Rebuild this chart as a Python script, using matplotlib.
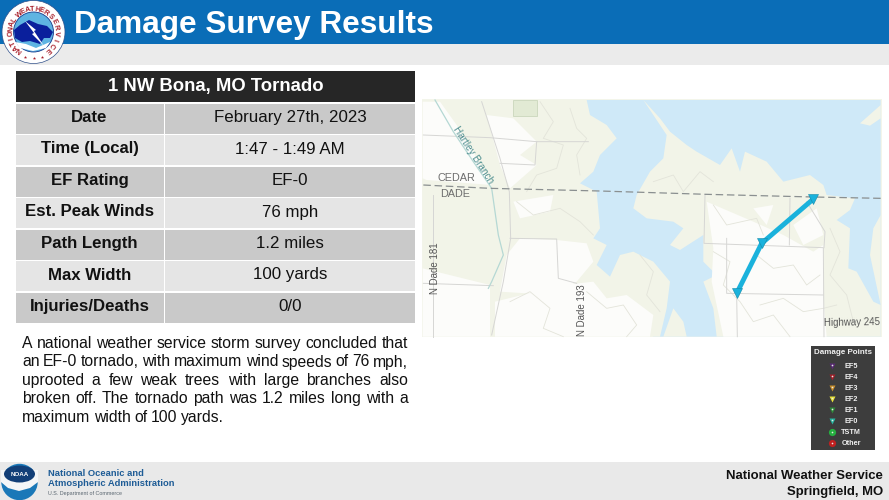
import numpy as np
import matplotlib
matplotlib.use("Agg")
import matplotlib.pyplot as plt
from matplotlib.patches import Rectangle, Polygon, Circle, Ellipse

plt.rcParams['font.family'] = ['Liberation Sans', 'DejaVu Sans']

title = "Damage Survey Results"
table_title = "1 NW Bona, MO Tornado"
row_labels = ["Date", "Time (Local)", "EF Rating", "Est. Peak Winds", "Path Length", "Max Width", "Injuries/Deaths"]
row_values = ["February 27th, 2023", "1:47 - 1:49 AM", "EF-0", "76 mph", "1.2 miles", "100 yards", "0/0"]
paragraph = [
    "A national weather service storm survey concluded that",
    "an EF-0 tornado, with maximum wind speeds of 76 mph,",
    "uprooted a few weak trees with large branches also",
    "broken off.  The tornado path was 1.2 miles long with a",
    "maximum width of 100 yards.",
]
legend_labels = ["EF5", "EF4", "EF3", "EF2", "EF1", "EF0", "TSTM", "Other"]
legend_colors = ["#5a2a76", "#a5202a", "#c98f2a", "#e8e238", "#2e8a3a", "#25b5a0", "#25b040", "#c02020"]
# track points, in map-image units
track_x = [1180, 1025, 950]
track_y = [312, 445, 595]

fig = plt.figure(figsize=(8.89, 5.0), dpi=100, facecolor="white")
ax = fig.add_axes([0, 0, 1, 1])
ax.set_xlim(0, 889); ax.set_ylim(500, 0); ax.axis("off")

def rect(x0, y0, x1, y1, c, z=1):
    ax.add_patch(Rectangle((x0, y0), x1 - x0, y1 - y0, fc=c, ec="none", zorder=z))

# bands
rect(0, 0, 889, 44, "#0a6db7")
rect(0, 44, 889, 65, "#ebebeb")
rect(0, 462, 889, 500, "#e9e9e9")
ax.text(74, 32.5, title, color="white", fontsize=22.7, fontweight="bold", va="baseline", ha="left", zorder=5)

# table
rect(16, 71, 415, 102, "#262626", 2)
ax.text(215.5, 91.5, table_title, color="white", fontsize=13.3, fontweight="bold", ha="center", va="baseline", zorder=5)
row_h = (324 - 103.5) / 7
for i, (a, b) in enumerate(zip(row_labels, row_values)):
    y0 = 103.5 + i * row_h
    c = "#c9c9c9" if i % 2 == 0 else "#e5e5e5"
    rect(16, y0, 163.5, y0 + row_h - 1.2, c, 2)
    rect(165, y0, 415, y0 + row_h - 1.2, c, 2)
    ax.text(89.5, y0 + 18.5, a, fontsize=12.1, fontweight="bold", color="#111111", ha="center", va="baseline", zorder=5)
    ax.text(290, y0 + 18.5, b, fontsize=12.2, color="#111111", ha="center", va="baseline", zorder=5)

# justified paragraph
fig.canvas.draw()
rend = fig.canvas.get_renderer()
line_ys = [348, 366.5, 385, 403.3, 422]
for i, (line, yy) in enumerate(zip(paragraph, line_ys)):
    words = line.replace("  ", " ").split(" ")
    arts = [ax.text(22, yy, w, fontsize=11.3, color="#111111", va="baseline", ha="left", zorder=5) for w in words]
    widths = [t.get_window_extent(rend).width for t in arts]
    if i < len(paragraph) - 1:
        gap = (408 - 22 - sum(widths)) / (len(words) - 1)
    else:
        gap = 3.6
    x = 22
    for t, w in zip(arts, widths):
        t.set_x(x)
        x += w + gap

# map
MX0, MY0, MX1, MY1 = 422, 99, 882, 337
def M(pts):
    return [(420 + x / 3, 95 + y / 3) for x, y in pts]
rect(MX0, MY0, MX1, MY1, "#f3f5ea", 2)
water = M([(480, 15), (1382, 15), (1382, 725), (700, 725), (480, 500)])
ax.add_patch(Polygon(water, fc="#cfe9f8", ec="none", zorder=2.1))
land = [
    [(500, 15), (510, 60), (560, 90), (590, 130), (540, 180), (520, 230), (480, 265), (530, 290), (540, 400),
     (520, 430), (560, 450), (530, 510), (570, 545), (600, 480), (640, 470), (700, 500), (750, 560), (740, 640),
     (720, 725), (8, 725), (8, 15)],
    [(670, 15), (720, 70), (750, 110), (800, 150), (830, 170), (900, 210), (935, 160), (960, 230), (975, 170),
     (1040, 200), (1090, 260), (1170, 240), (1210, 270), (1220, 300), (1305, 310), (1290, 345), (1250, 375),
     (1290, 400), (1285, 520), (1310, 530), (1360, 620), (1382, 630), (1382, 725), (890, 725), (880, 640),
     (850, 560), (890, 540), (850, 500), (850, 420), (780, 465), (750, 450), (790, 400), (760, 380), (680, 370),
     (640, 340), (650, 300), (690, 230), (730, 190), (740, 120), (700, 60)],
    [(1382, 360), (1360, 400), (1350, 480), (1382, 630)],
    [(1320, 85), (1382, 30), (1382, 70), (1350, 92)],
    [(730, 725), (760, 640), (790, 680), (800, 725)],
]
for p in land:
    ax.add_patch(Polygon(M(p), fc="#f2f4e8", ec="none", zorder=2.2))
white_land = [
    [(8, 20), (60, 20), (110, 90), (165, 180), (215, 270), (20, 255), (8, 250)],
    [(200, 60), (280, 70), (350, 140), (300, 180), (350, 210), (270, 280), (240, 210)],
    [(300, 430), (410, 435), (500, 445), (520, 500), (470, 560), (400, 600), (240, 590), (260, 480)],
    [(225, 620), (430, 570), (520, 560), (560, 610), (620, 600), (700, 660), (690, 725), (225, 725)],
    [(8, 520), (210, 570), (210, 725), (8, 725)],
    [(860, 320), (1000, 380), (1090, 420), (1180, 470), (1210, 450), (1210, 610), (1220, 725), (910, 725), (875, 560), (880, 460)],
    [(1000, 340), (1060, 330), (1040, 390)],
    [(1120, 390), (1190, 340), (1210, 420), (1150, 450)],
    [(280, 320), (400, 300), (390, 350), (300, 370)],
]
for p in white_land:
    ax.add_patch(Polygon(M(p), fc="#fcfcfa", ec="none", zorder=2.3))
ax.add_patch(Polygon(M([(278, 15), (352, 15), (352, 62), (278, 62)]), fc="#e2ead4", ec="#c5d2b5", lw=.5, zorder=2.4))
contours = [
    [(360, 20), (400, 80), (370, 130), (430, 150), (410, 220), (350, 240), (320, 290)],
    [(450, 40), (470, 100), (500, 130), (470, 180), (480, 240)],
    [(290, 320), (340, 360), (420, 340), (480, 380), (520, 420)],
    [(270, 620), (330, 590), (390, 640), (370, 700), (430, 725)],
    [(500, 590), (560, 640), (610, 630), (650, 690), (620, 725)],
    [(880, 470), (930, 500), (910, 570), (960, 620), (1000, 680), (1060, 660), (1110, 725)],
    [(1010, 480), (1060, 520), (1120, 510), (1160, 570), (1200, 540)],
    [(1020, 630), (1090, 610), (1150, 650), (1210, 640), (1250, 630)],
    [(880, 330), (920, 390), (1010, 370), (1030, 420)],
    [(700, 260), (760, 240), (790, 290), (840, 230), (880, 260)],
    [(1230, 400), (1260, 470), (1230, 540), (1280, 600), (1300, 680)],
    [(660, 480), (700, 530), (680, 600), (720, 650)],
]
for r in contours:
    x, y = zip(*M(r))
    ax.plot(x, y, color="#e3e4da", lw=.6, zorder=2.5)
roads = [
    [(10, 120), (210, 128), (350, 140), (505, 140)],
    [(185, 20), (240, 190), (268, 290), (272, 430), (250, 560), (215, 720)],
    [(350, 140), (345, 210), (240, 205)],
    [(270, 430), (410, 432), (415, 550), (470, 565)],
    [(10, 565), (220, 572)],
    [(40, 300), (40, 725)],
    [(855, 300), (852, 445), (1210, 458), (1212, 725)],
    [(920, 430), (920, 595), (1210, 600)],
    [(950, 600), (952, 725)],
    [(1110, 310), (1108, 450)],
    [(1160, 320), (1215, 410), (1212, 458)],
]
for r in roads:
    x, y = zip(*M(r))
    ax.plot(x, y, color="#d6d6d4", lw=.7, zorder=2.6)
x, y = zip(*M([(45, 15), (100, 110), (160, 200), (215, 280), (235, 420), (250, 480), (215, 560), (205, 580)]))
ax.plot(x, y, color="#b5d8d4", lw=.9, zorder=2.65)
x, y = zip(*M([(10, 270), (210, 280), (540, 288), (860, 298), (1180, 306), (1382, 310)]))
ax.plot(x, y, color="#8a8f90", lw=.9, ls=(0, (6, 3)), zorder=2.7)
ax.text(*M([(108, 248)])[0], "CEDAR", fontsize=7.8, color="#6e6e6e", ha="center", va="center", zorder=3)
ax.text(*M([(106, 298)])[0], "DADE", fontsize=7.8, color="#6e6e6e", ha="center", va="center", zorder=3)
ax.text(*M([(160, 180)])[0], "Hartley Branch", fontsize=7.2, color="#4f8f90", rotation=-57, rotation_mode="anchor", ha="center", va="center", zorder=3)
ax.text(*M([(46, 520)])[0], "N Dade 181", fontsize=7, color="#555555", rotation=90, ha="center", va="center", zorder=3)
ax.text(*M([(486, 645)])[0], "N Dade 193", fontsize=7, color="#555555", rotation=90, ha="center", va="center", zorder=3)
ax.text(*M([(1295, 682)])[0], "Highway 245", fontsize=7, color="#555555", rotation=1, ha="center", va="center", zorder=3)
tx, ty = zip(*M(list(zip(track_x, track_y))))
ax.plot(tx, ty, color="#1ab2dc", lw=3.5, zorder=4, solid_capstyle="butt")
ax.plot(tx, ty, ls="none", marker="v", ms=6.5, color="#1ab2dc", mec="#178aa8", mew=.4, zorder=4.1)

# damage-point legend
rect(811, 346, 875, 450, "#3d3d3d", 2)
ax.text(843, 354.5, "Damage Points", color="#f0f0f0", fontsize=5.8, fontweight="bold", ha="center", va="baseline", zorder=5)
for i, (lab, col) in enumerate(zip(legend_labels, legend_colors)):
    yy = 365.5 + i * 11.05
    ax.plot([832], [yy], marker="v" if i < 6 else "o", ms=4.2 if i < 6 else 5.2, color=col, mec="none", zorder=5)
    ax.plot([832], [yy - .3], marker="o", ms=1.2, color="#e8e8e8", mec="none", zorder=5.1)
    ax.text(851, yy + 2, lab, color="#f0f0f0", fontsize=5.2, fontweight="bold", ha="center", va="baseline", zorder=5)

# footer
ax.text(883, 479, "National Weather Service", fontsize=9.45, fontweight="bold", color="#111111", ha="right", va="baseline", zorder=5)
ax.text(883, 495, "Springfield, MO", fontsize=9.45, fontweight="bold", color="#111111", ha="right", va="baseline", zorder=5)
ax.text(48, 476, "National Oceanic and", fontsize=6.75, fontweight="bold", color="#1e5c96", va="baseline", zorder=5)
ax.text(48, 486, "Atmospheric Administration", fontsize=6.75, fontweight="bold", color="#1e5c96", va="baseline", zorder=5)
ax.text(48, 495, "U.S. Department of Commerce", fontsize=3.9, color="#5a6670", va="baseline", zorder=5)

# NOAA emblem
ax.add_patch(Circle((19.5, 482), 18.2, fc="#1a78b8", ec="none", zorder=3))
ax.add_patch(Polygon([(1, 470), (38, 470), (38, 482), (30, 488), (19, 491), (8, 488), (1, 482)], fc="#f4f6f8", ec="none", zorder=3.1))
ax.add_patch(Ellipse((19.5, 474), 31, 17, fc="#123f78", ec="none", zorder=3.2))
ax.text(19.5, 476.5, "NOAA", color="white", fontsize=4.5, fontweight="bold", ha="center", va="baseline", zorder=5)

# NWS emblem
cx, cy = 33.5, 32
ax.add_patch(Circle((cx, cy), 31.5, fc="white", ec="#30508a", lw=.5, zorder=3))
ax.add_patch(Circle((cx, cy), 20, fc="#5fb4e2", ec="#153a8c", lw=.6, zorder=3.1))
ax.add_patch(Polygon([(14, 30), (20, 25), (29, 20), (38, 24), (47, 26), (53, 32), (50, 38), (44, 38),
                      (40, 44), (30, 41), (22, 42), (15, 38)], fc="#0a1f9c", ec="none", zorder=3.2))
ax.add_patch(Polygon([(15, 42), (26, 44), (36, 48), (50, 42), (46, 48), (33, 51), (20, 48)], fc="white", ec="none", zorder=3.3))
ax.add_patch(Polygon([(25, 21), (36, 30), (34, 31), (44, 46), (32, 34), (34, 33)], fc="white", ec="none", zorder=3.4))
def arc_text(s, a0, a1, r):
    for ch, a in zip(s, np.linspace(a0, a1, len(s))):
        rad = np.deg2rad(a)
        px, py = cx + r * np.cos(rad), cy - r * np.sin(rad)
        ax.text(px, py, ch, fontsize=5.2, fontweight="bold", color="#a81f2a", rotation=a - 90, rotation_mode="anchor", ha="center", va="center", zorder=5)
arc_text("NATIONAL", 232, 148, 22.5)
arc_text("WEATHER", 128, 58, 22.5)
arc_text("SERVICE", 42, -50, 22.5)
for a in (-72, -90, -108):
    ax.plot(cx + 26 * np.cos(np.deg2rad(a)), cy - 26 * np.sin(np.deg2rad(a)), marker="*", ms=2.5, color="#a81f2a", mec="none", zorder=5)

fig.savefig("out.png", dpi=100, facecolor="white")
